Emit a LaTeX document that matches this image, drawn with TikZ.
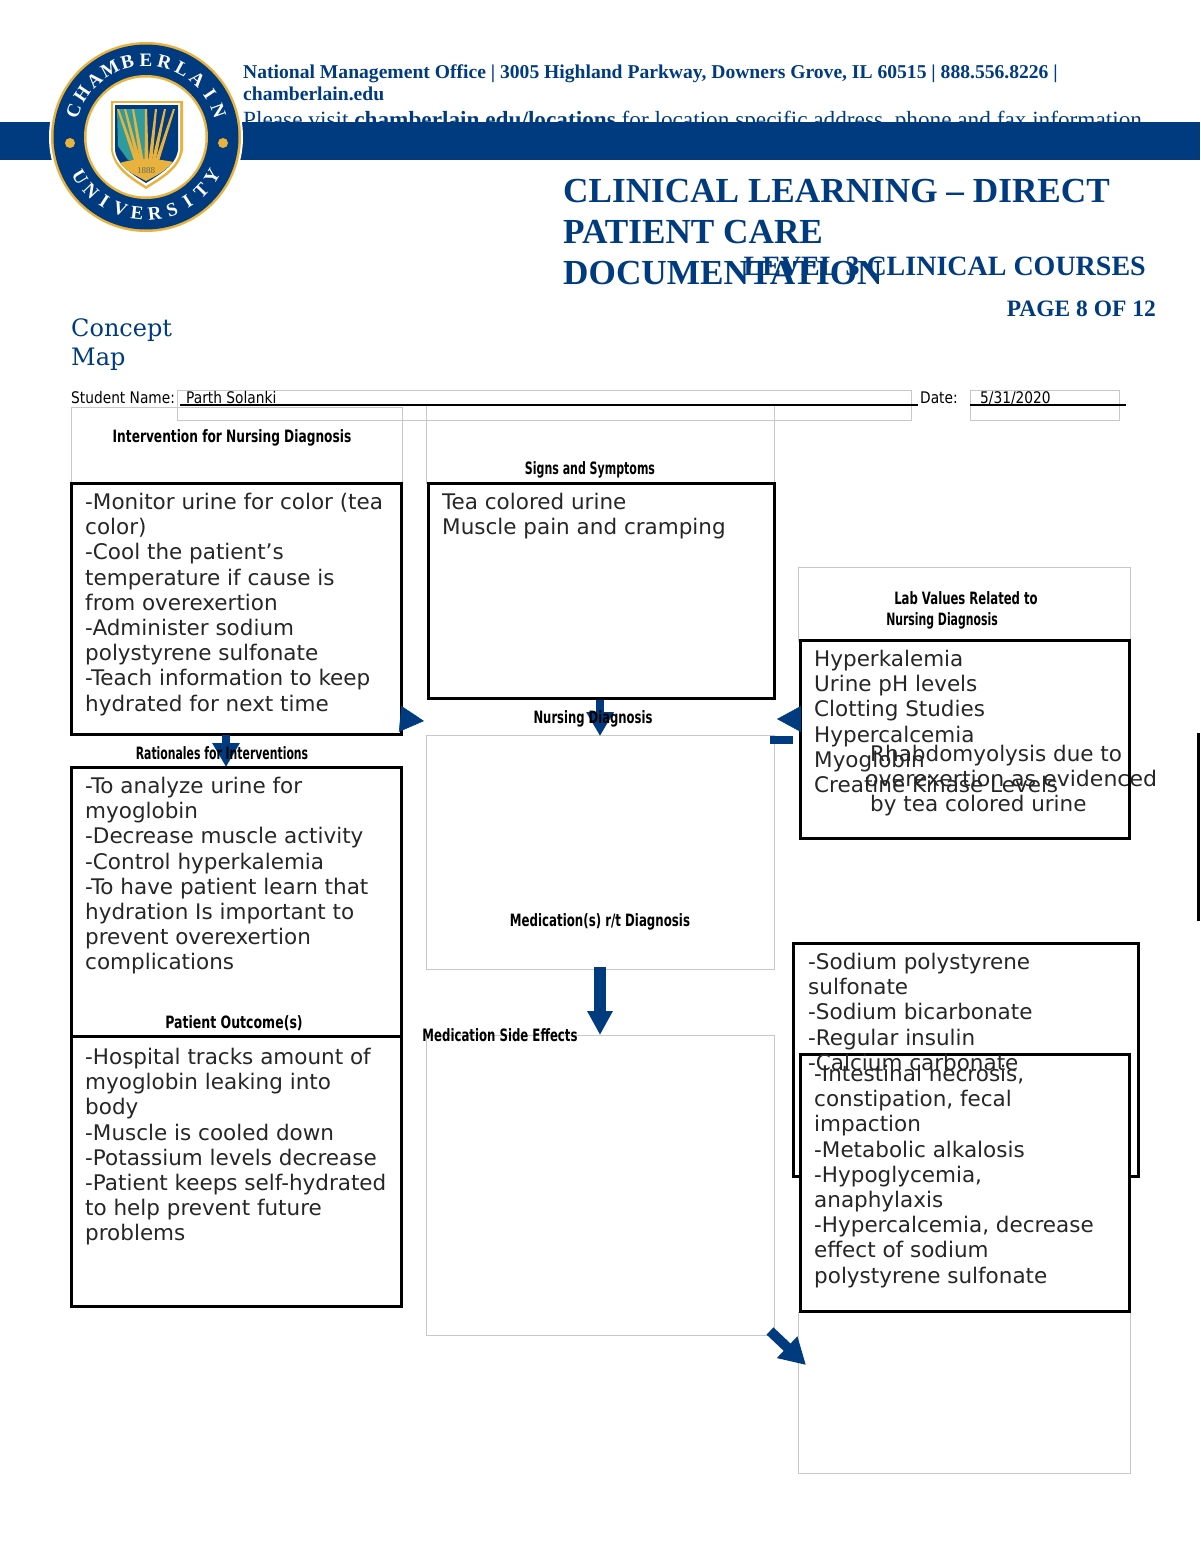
\documentclass[tikz,border=0pt]{standalone}
\usepackage{fontspec}
\usepackage{graphicx}
\usetikzlibrary{arrows.meta}
\setmainfont{DejaVu Sans}
\newfontfamily\titlefont{Liberation Serif}[BoldFont={Liberation Serif Bold}]
\newfontfamily\headfont{DejaVu Sans}[FakeStretch=0.78]
\newfontfamily\formfont{DejaVu Sans}[FakeStretch=0.86]
\newfontfamily\mapfont{DejaVu Serif}
\newcommand{\squeezed}[2]{\scalebox{#1}[1]{#2}}
\definecolor{navy}{HTML}{003B7F}
\definecolor{gold}{HTML}{E9B23C}
\definecolor{teal}{HTML}{2E9C9E}
\definecolor{boxgray}{HTML}{C8C8C8}
\definecolor{bodygray}{HTML}{262626}
\tikzset{
  graybox/.style={draw=boxgray,line width=1.6pt,anchor=north west,inner sep=0pt},
  blackbox/.style={draw=black,line width=2.6pt,anchor=north west,inner sep=0pt},
  bodytext/.style={anchor=north west,inner sep=0pt,align=left,text=bodygray,
    font=\fontsize{21.5}{25.2}\selectfont},
  headtext/.style={anchor=center,inner sep=0pt,align=center,
    font=\headfont\bfseries\fontsize{17}{20}\selectfont},
  flowarrow/.style={draw=navy,line width=8pt,-{Triangle[length=24pt,width=26pt,fill=navy]}},
  logoletter/.style={inner sep=0pt,text=white,font=\titlefont\bfseries\fontsize{19}{19}\selectfont},
  titletext/.style={anchor=base west,inner sep=0pt,text=navy,font=\titlefont\bfseries\fontsize{35.2}{41}\selectfont},
  formtext/.style={anchor=base west,inner sep=0pt,font=\formfont\fontsize{16}{18}\selectfont},
}
\begin{document}
\begin{tikzpicture}[x=1pt,y=-1pt]
  \useasboundingbox (0,0) rectangle (1200,1553);

  % letterhead
  \node[anchor=base west,inner sep=0pt,text=navy,font=\titlefont\bfseries\fontsize{19.6}{22}\selectfont]
    (officeline) at (243,78) {National Management Office | 3005 Highland Parkway, Downers Grove, IL 60515 | 888.556.8226 |};
  \node[anchor=base west,inner sep=0pt,text=navy,font=\titlefont\bfseries\fontsize{19.6}{22}\selectfont]
    (webline) at (243,100) {chamberlain.edu};
  \node[anchor=base west,inner sep=0pt,text=navy,font=\titlefont\fontsize{23.25}{25}\selectfont]
    (visitline) at (243,127) {Please visit \textbf{chamberlain.edu/locations} for location specific address, phone and fax information.};
  \fill[navy] (0,122) rectangle (1200,160);

  % logo
  \fill[white] (146,137) circle (97);
  \fill[gold] (146,137) circle (95);
  \fill[navy] (146,137) circle (92.5);
  \fill[gold] (146,137) circle (62);
  \fill[white] (146,137) circle (59.5);
  \fill[gold] (70,143) circle (5);
  \fill[gold] (223,143) circle (5);
  \foreach \ch [count=\i] in {C,H,A,M,B,E,R,L,A,I,N}
    \node[logoletter,rotate={(6-\i)*14}] at ({146+77*cos(90+(6-\i)*14)},{137-77*sin(90+(6-\i)*14)}) {\ch};
  \foreach \ch [count=\i] in {U,N,I,V,E,R,S,I,T,Y}
    \node[logoletter,rotate={(\i-5.5)*13.1}] at ({146+77*sin((\i-5.5)*13.1)},{137+77*cos((\i-5.5)*13.1)}) {\ch};

  % shield
  \fill[gold] (111,101) -- (183,101) -- (183,150) .. controls (180,170) and (160,180) .. (146,189)
    .. controls (132,180) and (114,170) .. (111,150) -- cycle;
  \fill[white] (113,103) -- (180,103) -- (180,150) .. controls (178,168) and (158,178) .. (146,186)
    .. controls (134,178) and (116,168) .. (113,150) -- cycle;
  \fill[navy] (115,105) -- (178,105) -- (178,150) .. controls (176,166) and (157,176) .. (146,183)
    .. controls (135,176) and (117,166) .. (115,150) -- cycle;
  \fill[teal] (117,109) -- (147,109) -- (147,162) -- (128,160) -- (118,146) -- cycle;
  \foreach \topx in {118,125,133,146,156,165,174}
    \fill[gold] ({\topx-1},109) -- ({\topx+1},109) -- ({147+(\topx-147)*0.35+2},163) -- ({147+(\topx-147)*0.35-2},163) -- cycle;
  \fill[gold] (120,163) .. controls (135,158) and (155,158) .. (173,162)
    .. controls (165,172) and (155,176) .. (146,181) .. controls (137,176) and (127,172) .. (120,163) -- cycle;
  \node[inner sep=0pt,text=navy!60!gold,font=\titlefont\fontsize{9}{9}\selectfont] (yearlabel) at (146,171) {1888};

  % title
  \node[titletext] (titleone) at (563,202) {CLINICAL LEARNING – DIRECT};
  \node[titletext] (titletwo) at (563,243) {PATIENT CARE};
  \node[titletext] (titlethree) at (563,284) {DOCUMENTATION};
  \node[anchor=base east,inner sep=0pt,text=navy,font=\titlefont\bfseries\fontsize{28}{32}\selectfont]
    (levelline) at (1146,275) {LEVEL 3 CLINICAL COURSES};
  \node[anchor=base east,inner sep=0pt,text=navy,font=\titlefont\bfseries\fontsize{23.5}{26}\selectfont]
    (pageline) at (1156,316) {PAGE 8 OF 12};
  \node[anchor=base west,inner sep=0pt,text=navy,font=\mapfont\fontsize{24}{29}\selectfont]
    (conceptline) at (71,336) {Concept};
  \node[anchor=base west,inner sep=0pt,text=navy,font=\mapfont\fontsize{24}{29}\selectfont]
    (mapline) at (71,365) {Map};

  % student line
  \node[graybox,minimum width=734pt,minimum height=30pt] (namebox) at (176.5,389.5) {};
  \node[graybox,minimum width=149pt,minimum height=30pt] (datebox) at (969.5,389.5) {};

  % gray boxes
  \node[graybox,minimum width=331pt,minimum height=76pt] (interhead) at (70.5,406.5) {};
  \node[graybox,minimum width=348pt,minimum height=78pt] (signshead) at (425.5,404.5) {};
  \node[graybox,minimum width=332pt,minimum height=74pt] (labhead) at (797.5,566.5) {};
  \node[graybox,minimum width=348pt,minimum height=234pt] (diagbox) at (425.5,734.5) {};
  \node[graybox,minimum width=348pt,minimum height=300pt] (effectbox) at (425.5,1034.5) {};
  \node[graybox,minimum width=332pt,minimum height=161pt] (lastbox) at (797.5,1311.5) {};

  \node[formtext] (namelabel) at (71,403) {Student Name:};
  \node[formtext] (namevalue) at (186,403) {Parth Solanki};
  \node[formtext] (datelabel) at (920,403) {Date:};
  \node[formtext] (datevalue) at (980,403) {5/31/2020};
  \draw[line width=1.2pt] (180,405) -- (918,405);
  \draw[line width=1.2pt] (970,405) -- (1126,405);

  % black boxes
  \node[blackbox,minimum width=330pt,minimum height=251pt] (interbox) at (70,482) {};
  \node[blackbox,minimum width=346pt,minimum height=215pt] (signsbox) at (427,482) {};
  \node[blackbox,minimum width=329pt,minimum height=198pt] (labbox) at (799,639) {};
  \node[blackbox,minimum width=330pt,minimum height=269pt] (ratiobox) at (70,766) {};
  \node[blackbox,minimum width=330pt,minimum height=270pt] (outcomebox) at (70,1035) {};
  \node[blackbox,minimum width=345pt,minimum height=233pt] (medbox) at (792,942) {};
  \node[blackbox,fill=white,minimum width=329pt,minimum height=257pt] (sidebox) at (799,1053) {};
  \fill[black] (1197,733) rectangle (1200,921);

  % arrows
  \coordinate (interout) at (402,719);
  \coordinate (interin) at (424,721);
  \coordinate (labout) at (800,719);
  \coordinate (labin) at (777,719);
  \coordinate (signsout) at (600,700);
  \coordinate (signsin) at (600,736);
  \coordinate (ratioout) at (226,735);
  \coordinate (ratioin) at (226,767);
  \coordinate (medout) at (600,967);
  \coordinate (medin) at (600,1035);
  \coordinate (sideout) at (770,1331);
  \coordinate (sidein) at (806,1365);
  \draw[flowarrow,line width=0.5pt] (interout) -- (interin);
  \draw[flowarrow,line width=0.5pt] (labout) -- (labin);
  \draw[flowarrow] (signsout) -- (signsin);
  \draw[flowarrow] (ratioout) -- (ratioin);
  \draw[flowarrow,line width=12pt,-{Triangle[length=24pt,width=24pt,fill=navy]}] (medout) -- (medin);
  \draw[flowarrow,line width=10pt,-{Triangle[length=26pt,width=28pt,fill=navy]}] (sideout) -- (sidein);
  \fill[navy] (770,736) rectangle (793,744);

  % headings
  \node[headtext] (interlabel) at (232,438) {\squeezed{0.92}{Intervention for Nursing Diagnosis}};
  \node[headtext] (signslabel) at (590,470) {\squeezed{0.83}{Signs and Symptoms}};
  \node[headtext] (lablabel) at (966,598) {\squeezed{0.88}{Lab Values Related to}};
  \node[headtext] (lablabeltwo) at (942,621) {\squeezed{0.82}{Nursing Diagnosis}};
  \node[headtext] (diaglabel) at (593,719) {\squeezed{0.875}{Nursing Diagnosis}};
  \node[headtext] (ratiolabel) at (222,753) {\squeezed{0.82}{Rationales for Interventions}};
  \node[headtext] (medlabel) at (600,922) {\squeezed{0.89}{Medication(s) r/t Diagnosis}};
  \node[headtext] (outcomelabel) at (234,1023) {\squeezed{0.945}{Patient Outcome(s)}};
  \node[headtext] (effectlabel) at (500,1035) {\squeezed{0.885}{Medication Side Effects}};

  % texts
  \node[bodytext] (intertext) at (85,493) {-Monitor urine for color (tea\\color)\\-Cool the patient's\\temperature if cause is\\from overexertion\\-Administer sodium\\polystyrene sulfonate\\-Teach information to keep\\hydrated for next time};
  \node[bodytext] (signstext) at (442,493) {Tea colored urine\\Muscle pain and cramping};
  \node[bodytext] (labtext) at (814,650) {Hyperkalemia\\Urine pH levels\\Clotting Studies\\Hypercalcemia\\Myoglobin\\Creatine Kinase Levels};
  \node[bodytext] (diagtext) at (870,745) {Rhabdomyolysis due to\\\hspace*{-5pt}\squeezed{1.025}{overexertion as evidenced}\\by tea colored urine};
  \node[bodytext] (ratiotext) at (85,777) {-To analyze urine for\\myoglobin\\-Decrease muscle activity\\-Control hyperkalemia\\-To have patient learn that\\hydration Is important to\\prevent overexertion\\complications};
  \node[bodytext] (outcometext) at (85,1048) {-Hospital tracks amount of\\myoglobin leaking into\\body\\-Muscle is cooled down\\-Potassium levels decrease\\-Patient keeps self-hydrated\\to help prevent future\\problems};
  \node[bodytext] (medtext) at (808,953) {-Sodium polystyrene\\sulfonate\\-Sodium bicarbonate\\-Regular insulin\\-Calcium carbonate};
  \node[bodytext] (sidetext) at (814,1065) {-Intestinal necrosis,\\constipation, fecal\\impaction\\-Metabolic alkalosis\\-Hypoglycemia,\\anaphylaxis\\-Hypercalcemia, decrease\\effect of sodium\\polystyrene sulfonate};
\end{tikzpicture}
\end{document}
